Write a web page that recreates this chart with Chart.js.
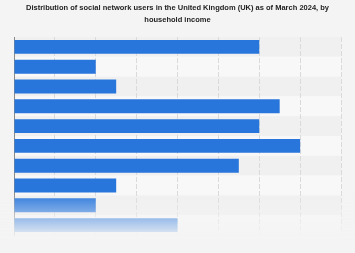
<!DOCTYPE html>
<html>
<head>
<meta charset="utf-8">
<script src="https://cdn.jsdelivr.net/npm/chart.js@4"></script>
<style>
    html, body { margin: 0; padding: 0; background: #f4f4f4; }
    #wrap { width: 355px; height: 253px; }
</style>
</head>
<body>
<div id="wrap"><canvas id="chart"></canvas></div>
<script>
const incomeLabels = [
    "Under £10,000",
    "£10,000 - £14,999",
    "£15,000 - £19,999",
    "£20,000 - £29,999",
    "£30,000 - £39,999",
    "£40,000 - £49,999",
    "£50,000 - £74,999",
    "£75,000 - £99,999",
    "£100,000 and over",
    "Prefer not to say"
];
const userShares = [12, 4, 5, 13, 12, 14, 11, 5, 4, 8];
const titleLines = [
    "Distribution of social network users in the United Kingdom (UK) as of March 2024, by",
    "household income"
];

const pageBg = "#f4f4f4";

// alternating row stripes, drawn before the grid
const stripes = {
    id: "stripes",
    beforeDraw(chart) {
        const { ctx, chartArea, scales } = chart;
        const y = scales.y;
        const step = (chartArea.bottom - chartArea.top) / incomeLabels.length;
        ctx.save();
        incomeLabels.forEach((l, i) => {
            ctx.fillStyle = i % 2 === 0 ? "#f0f0f0" : "#f8f8f8";
            const top = y.getPixelForValue(i) - step / 2;
            ctx.fillRect(chartArea.left, top, chartArea.right - chartArea.left, step);
        });
        ctx.restore();
    }
};

// paywall-like fade over the last rows
const fade = {
    id: "fade",
    afterDraw(chart) {
        const { ctx, width, height } = chart;
        const g = ctx.createLinearGradient(0, 192, 0, 238);
        g.addColorStop(0, "rgba(244,244,244,0)");
        g.addColorStop(1, "rgba(244,244,244,0.97)");
        ctx.save();
        ctx.fillStyle = g;
        ctx.fillRect(0, 192, width, 46);
        ctx.fillStyle = pageBg;
        ctx.fillRect(0, 238, width, height - 238);
        ctx.restore();
    }
};

new Chart(document.getElementById("chart"), {
    type: "bar",
    data: {
        labels: incomeLabels,
        datasets: [{
            data: userShares,
            backgroundColor: "#2876dc",
            borderWidth: 0,
            categoryPercentage: 1,
            barPercentage: 0.7
        }]
    },
    options: {
        indexAxis: "y",
        responsive: true,
        maintainAspectRatio: false,
        animation: false,
        layout: { padding: { left: 14, right: 14, bottom: 18, top: 0 } },
        plugins: {
            legend: { display: false },
            tooltip: { enabled: false },
            title: {
                display: true,
                text: titleLines,
                color: "#222",
                font: { family: "Liberation Sans", size: 7.5, weight: "bold", lineHeight: 1.6 },
                padding: { top: 2, bottom: 11 }
            }
        },
        scales: {
            x: {
                min: 0,
                max: 16,
                ticks: { display: false, stepSize: 2 },
                grid: { color: "#dadada", drawTicks: false },
                border: { display: false, dash: [5, 2] }
            },
            y: {
                ticks: { display: false },
                grid: { display: false, drawTicks: false },
                border: { display: true, color: "#8a8a8a", width: 1 }
            }
        }
    },
    plugins: [stripes, fade]
});
</script>
</body>
</html>
